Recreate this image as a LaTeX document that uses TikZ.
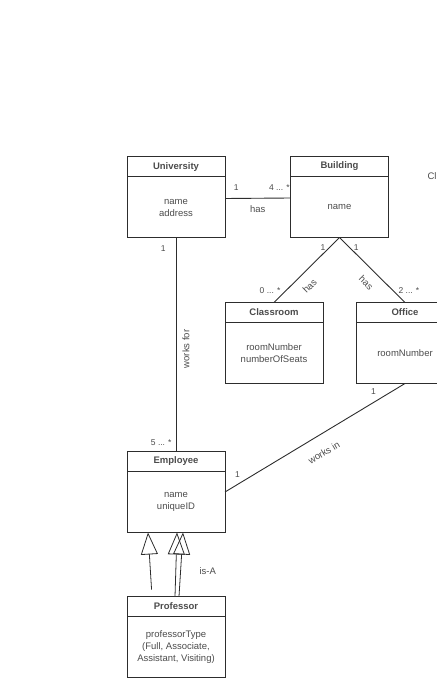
\documentclass[tikz,border=0pt]{standalone}
\usepackage{fontspec}
\setmainfont{Liberation Sans}
\usetikzlibrary{arrows.meta, positioning}
\definecolor{umlline}{RGB}{45,45,45}
\definecolor{umltext}{RGB}{75,75,75}

\begin{document}
\begin{tikzpicture}[x=1pt, y=-1pt,
		every node/.style={text=umltext, font=\fontsize{9.5}{12}\selectfont},
		classhead/.style={draw=umlline, line width=1pt, minimum width=98pt, minimum height=20pt, inner sep=0pt, outer sep=0pt, font=\fontsize{9.5}{12}\selectfont\bfseries},
		classbody/.style={draw=umlline, line width=1pt, minimum width=98pt, minimum height=61pt, inner sep=0pt, outer sep=0pt, align=center},
		assoc/.style={draw=umlline, line width=0.9pt},
		mult/.style={font=\fontsize{8.5}{10}\selectfont, inner sep=2pt},
		isa/.style={draw=umlline, line width=0.8pt, -{Triangle[open, length=22pt, width=17pt]}}]
	\useasboundingbox (0,0) rectangle (436,700);
	% Classes
	\node[classhead] (univh) at (176,167) {University};
	\node[classbody, below=0pt of univh] (univb) {name\\address};
	\node[classhead] (bldh) at (339.5,166.5) {Building};
	\node[classbody, below=0pt of bldh] (bldb) {name};
	\node[classhead] (classh) at (274,312.5) {Classroom};
	\node[classbody, below=0pt of classh] (classb) {roomNumber\\numberOfSeats};
	\node[classhead] (offh) at (405,312.5) {Office};
	\node[classbody, below=0pt of offh] (offb) {roomNumber};
	\node[classhead] (emph) at (176,461.5) {Employee};
	\node[classbody, below=0pt of emph] (empb) {name\\uniqueID};
	\node[classhead] (profh) at (176,606.5) {Professor};
	\node[classbody, below=0pt of profh] (profb) {professorType\\(Full, Associate,\\Assistant, Visiting)};
	\node (cltext) at (432,176) {Cl};
	
	% Associations
	\draw[assoc] ([yshift=9]univb.east) -- ([yshift=9]bldb.west)
		node[mult, pos=0.17, above=5pt] {1}
		node[mult, pos=0.83, above=5pt] {4 ... *}
		node[pos=0.5, below=4pt] {has};
	\draw[assoc] (classh.north) -- (bldb.south)
		node[mult, pos=0.18, left=3pt] {0 ... *}
		node[mult, pos=0.85, left=2pt] {1}
		node[pos=0.4, sloped, below=6pt] {has};
	\draw[assoc] (bldb.south) -- (offh.north)
		node[mult, pos=0.15, right=2pt] {1}
		node[mult, pos=0.82, right=3pt] {2 ... *}
		node[pos=0.55, sloped, below=6pt] {has};
	\draw[assoc] (univb.south) -- (emph.north)
		node[mult, pos=0.05, left=8pt] {1}
		node[mult, pos=0.96, left=2pt] {5 ... *}
		node[pos=0.52, rotate=90, anchor=north, inner sep=6pt] {works for};
	\draw[assoc] ([yshift=10]empb.east) -- (offb.south)
		node[mult, pos=0.07, above=4pt] {1}
		node[mult, pos=0.86, above left=2pt] {1}
		node[pos=0.5, sloped, below=10pt] {works in};
	
	% is-A
	\draw[isa, shorten <=7pt] ([xshift=-24]profh.north) -- ([xshift=-28]empb.south);
	\draw[isa] ([xshift=-1]profh.north) -- ([xshift=1]empb.south)
		node[pos=0.4, right=20pt] {is-A};
	\draw[isa] ([xshift=3]profh.north) -- ([xshift=7]empb.south);
\end{tikzpicture}
\end{document}
